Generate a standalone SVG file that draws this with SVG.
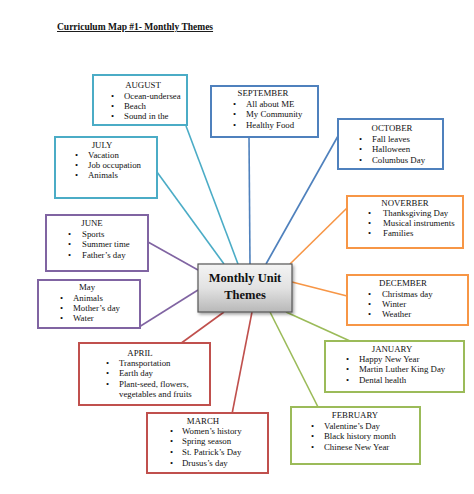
<svg xmlns="http://www.w3.org/2000/svg" width="474" height="494" viewBox="0 0 474 494">
<defs>
<linearGradient id="cg" x1="0" y1="0" x2="0" y2="1">
<stop offset="0" stop-color="#f4f4f4"/>
<stop offset="0.5" stop-color="#e2e2e2"/>
<stop offset="1" stop-color="#b8b8b8"/>
</linearGradient>
<filter id="sh" x="-20%" y="-20%" width="140%" height="150%">
<feDropShadow dx="1.5" dy="2" stdDeviation="1.5" flood-color="#000" flood-opacity="0.35"/>
</filter>
</defs>
<style>
text{font-family:"Liberation Serif","Times New Roman",serif;font-size:8.8px;fill:#111}
.t{text-anchor:middle}
.box{fill:#fff;stroke-width:2}
.teal{stroke:#4bacc6}.blue{stroke:#4f81bd}.purple{stroke:#8064a2}.orange{stroke:#f79646}.red{stroke:#c0504d}.green{stroke:#9bbb59}
#connectors line{stroke-width:1.6;fill:none}
.ttl{font-weight:bold;font-size:9.5px;text-decoration:underline}
.ctr{font-weight:bold;font-size:12.5px;text-anchor:middle}
</style>
<rect width="474" height="494" fill="#fff"/>
<text class="ttl" x="57" y="30">Curriculum Map #1- Monthly Themes</text>

<g id="connectors">
<line class="teal" x1="186" y1="126" x2="238" y2="264"/>
<line class="teal" x1="157" y1="172" x2="224" y2="264"/>
<line class="blue" x1="249" y1="137" x2="250" y2="264"/>
<line class="blue" x1="338" y1="136" x2="266" y2="264"/>
<line class="orange" x1="347" y1="208" x2="290" y2="264"/>
<line class="orange" x1="292" y1="282" x2="347" y2="296"/>
<line class="purple" x1="148" y1="242" x2="198" y2="270"/>
<line class="purple" x1="139" y1="327" x2="198" y2="290"/>
<line class="red" x1="180" y1="344" x2="224" y2="312"/>
<line class="red" x1="232" y1="414" x2="252" y2="312"/>
<line class="green" x1="350" y1="341" x2="286" y2="312"/>
<line class="green" x1="318" y1="407" x2="270" y2="312"/>
</g>

<g id="center">
<rect x="198" y="264" width="94" height="48" fill="url(#cg)" stroke="#555" stroke-width="1.2" filter="url(#sh)"/>
<text class="ctr" x="245" y="282">Monthly Unit</text>
<text class="ctr" x="245" y="299">Themes</text>
</g>

<g id="august">
<rect class="box teal" x="93" y="75" width="94" height="50"/>
<text class="t" x="143" y="88">AUGUST</text>
<text x="111" y="99">•</text><text x="124" y="99">Ocean-undersea</text>
<text x="111" y="109">•</text><text x="124" y="109">Beach</text>
<text x="111" y="119">•</text><text x="124" y="119">Sound in the</text>
</g>

<g id="september">
<rect class="box blue" x="211" y="86" width="107" height="51"/>
<text class="t" x="263" y="96">SEPTEMBER</text>
<text x="233" y="107">•</text><text x="246" y="107">All about ME</text>
<text x="233" y="117">•</text><text x="246" y="117">My Community</text>
<text x="233" y="128">•</text><text x="246" y="128">Healthy Food</text>
</g>

<g id="october">
<rect class="box blue" x="338" y="119" width="105" height="50"/>
<text class="t" x="392" y="131">OCTOBER</text>
<text x="359" y="142">•</text><text x="372" y="142">Fall leaves</text>
<text x="359" y="152">•</text><text x="372" y="152">Halloween</text>
<text x="359" y="163">•</text><text x="372" y="163">Columbus Day</text>
</g>

<g id="july">
<rect class="box teal" x="55" y="137" width="102" height="61"/>
<text class="t" x="102" y="148">JULY</text>
<text x="75" y="158">•</text><text x="88" y="158">Vacation</text>
<text x="75" y="168">•</text><text x="88" y="168">Job occupation</text>
<text x="75" y="178">•</text><text x="88" y="178">Animals</text>
</g>

<g id="june">
<rect class="box purple" x="46" y="215" width="102" height="56"/>
<text class="t" x="92" y="226">JUNE</text>
<text x="68" y="237">•</text><text x="82" y="237">Sports</text>
<text x="68" y="247">•</text><text x="82" y="247">Summer time</text>
<text x="68" y="258">•</text><text x="82" y="258">Father’s day</text>
</g>

<g id="november">
<rect class="box orange" x="347" y="196" width="116" height="52"/>
<text class="t" x="405" y="206">NOVERBER</text>
<text x="368" y="216">•</text><text x="383" y="216">Thanksgiving Day</text>
<text x="368" y="226">•</text><text x="383" y="226">Musical instruments</text>
<text x="368" y="236">•</text><text x="383" y="236">Families</text>
</g>

<g id="may">
<rect class="box purple" x="38" y="280" width="102" height="48"/>
<text class="t" x="87" y="290">May</text>
<text x="60" y="301">•</text><text x="73" y="301">Animals</text>
<text x="60" y="311">•</text><text x="73" y="311">Mother’s day</text>
<text x="60" y="321">•</text><text x="73" y="321">Water</text>
</g>

<g id="december">
<rect class="box orange" x="347" y="275" width="121" height="50"/>
<text class="t" x="403" y="286">DECEMBER</text>
<text x="368" y="297">•</text><text x="382" y="297">Christmas day</text>
<text x="368" y="307">•</text><text x="382" y="307">Winter</text>
<text x="368" y="317">•</text><text x="382" y="317">Weather</text>
</g>

<g id="april">
<rect class="box red" x="79" y="343" width="131" height="62"/>
<text class="t" x="140" y="356">APRIL</text>
<text x="106" y="366">•</text><text x="119" y="366">Transportation</text>
<text x="106" y="376">•</text><text x="119" y="376">Earth day</text>
<text x="106" y="387">•</text><text x="119" y="387">Plant-seed, flowers,</text>
<text x="119" y="397">vegetables and fruits</text>
</g>

<g id="january">
<rect class="box green" x="325" y="341" width="139" height="51"/>
<text class="t" x="392" y="352">JANUARY</text>
<text x="346" y="362">•</text><text x="359" y="362">Happy New Year</text>
<text x="346" y="372">•</text><text x="359" y="372">Martin Luther King Day</text>
<text x="346" y="383">•</text><text x="359" y="383">Dental health</text>
</g>

<g id="march">
<rect class="box red" x="147" y="413" width="121" height="60"/>
<text class="t" x="203" y="424">MARCH</text>
<text x="170" y="434">•</text><text x="182" y="434">Women’s history</text>
<text x="170" y="444">•</text><text x="182" y="444">Spring season</text>
<text x="170" y="455">•</text><text x="182" y="455">St. Patrick’s Day</text>
<text x="170" y="466">•</text><text x="182" y="466">Drusus’s day</text>
</g>

<g id="february">
<rect class="box green" x="291" y="407" width="129" height="57"/>
<text class="t" x="355" y="418">FEBRUARY</text>
<text x="311" y="429">•</text><text x="324" y="429">Valentine’s Day</text>
<text x="311" y="439">•</text><text x="324" y="439">Black history month</text>
<text x="311" y="450">•</text><text x="324" y="450">Chinese New Year</text>
</g>
</svg>
